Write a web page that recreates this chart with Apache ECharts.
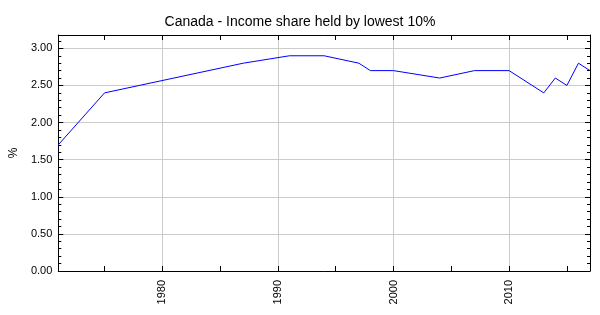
<!DOCTYPE html>
<html><head><meta charset="utf-8">
<script src="https://cdn.jsdelivr.net/npm/echarts@6/dist/echarts.min.js"></script>
<style>html,body{margin:0;padding:0;background:#fff}#c{width:600px;height:315px}</style>
</head><body><div id="c"></div>
<script>
const titleText = "Canada - Income share held by lowest 10%";
const yAxisName = "%";
const years = [1971, 1975, 1981, 1987, 1991, 1994, 1997, 1998, 2000, 2004, 2007, 2010, 2013, 2014, 2015, 2016, 2017];
const values = [1.7, 2.4, 2.6, 2.8, 2.9, 2.9, 2.8, 2.7, 2.7, 2.6, 2.7, 2.7, 2.4, 2.6, 2.5, 2.8, 2.7];
const xLabelYears = [1980, 1990, 2000, 2010];
const xTickYears = [1975, 1980, 1985, 1990, 1995, 2000, 2005, 2010, 2015];

const chart = echarts.init(document.getElementById('c'), null, {renderer: 'canvas'});
const font = 'Liberation Sans, Arial, sans-serif';
const xMin = 1971, xMax = 2017, yMin = 0, yMax = 3.18;
const tickStyle = {color: '#000', width: 1};
chart.setOption({
  animation: false,
  backgroundColor: '#fff',
  title: {text: titleText, left: 'center', top: 10, textStyle: {fontFamily: font, fontSize: 14, fontWeight: 'normal', color: '#000'}},
  grid: {left: 55, right: 10, top: 35, bottom: 44, containLabel: false},
  xAxis: [
    {type: 'value', min: xMin, max: xMax, position: 'bottom',
     axisLine: {show: true, onZero: false, lineStyle: {color: '#000', width: 1}},
     axisTick: {show: true, inside: true, length: 5, customValues: xTickYears, lineStyle: tickStyle},
     axisLabel: {show: true, customValues: xLabelYears, rotate: 90, fontFamily: font, fontSize: 11, color: '#000', margin: 9, formatter: v => String(v)},
     splitLine: {show: false}},
    {type: 'value', min: xMin, max: xMax, position: 'top',
     axisLine: {show: true, onZero: false, lineStyle: {color: '#000', width: 1}},
     axisTick: {show: true, inside: true, length: 5, customValues: xTickYears, lineStyle: tickStyle},
     axisLabel: {show: false},
     splitLine: {show: false}},
    {type: 'value', min: xMin, max: xMax, position: 'bottom',
     axisLine: {show: false},
     axisTick: {show: false, customValues: xLabelYears},
     axisLabel: {show: false},
     splitLine: {show: true, lineStyle: {color: '#cccccc', width: 1}}}
  ],
  yAxis: [
    {type: 'value', min: yMin, max: yMax, interval: 0.5, position: 'left',
     name: yAxisName, nameLocation: 'middle', nameGap: 36, nameRotate: 90,
     nameTextStyle: {fontFamily: font, fontSize: 12, color: '#000'},
     axisLine: {show: true, onZero: false, lineStyle: {color: '#000', width: 1}},
     axisTick: {show: true, inside: true, length: 5, lineStyle: tickStyle},
     minorTick: {show: true, splitNumber: 5, length: 3, lineStyle: tickStyle},
     axisLabel: {show: true, showMaxLabel: false, fontFamily: font, fontSize: 11, color: '#000', margin: 6, formatter: v => v.toFixed(2)},
     splitLine: {show: true, lineStyle: {color: '#cccccc', width: 1}}},
    {type: 'value', min: yMin, max: yMax, interval: 0.5, position: 'right',
     axisLine: {show: true, onZero: false, lineStyle: {color: '#000', width: 1}},
     axisTick: {show: true, inside: true, length: 5, lineStyle: tickStyle},
     minorTick: {show: true, splitNumber: 5, length: 3, lineStyle: tickStyle},
     axisLabel: {show: false},
     splitLine: {show: false}}
  ],
  series: [{
    type: 'line', xAxisIndex: 0, yAxisIndex: 0,
    data: years.map((y, i) => [y, values[i]]),
    showSymbol: false, symbol: 'none',
    lineStyle: {color: '#0000ff', width: 1},
    z: 5
  }]
});
</script></body></html>
